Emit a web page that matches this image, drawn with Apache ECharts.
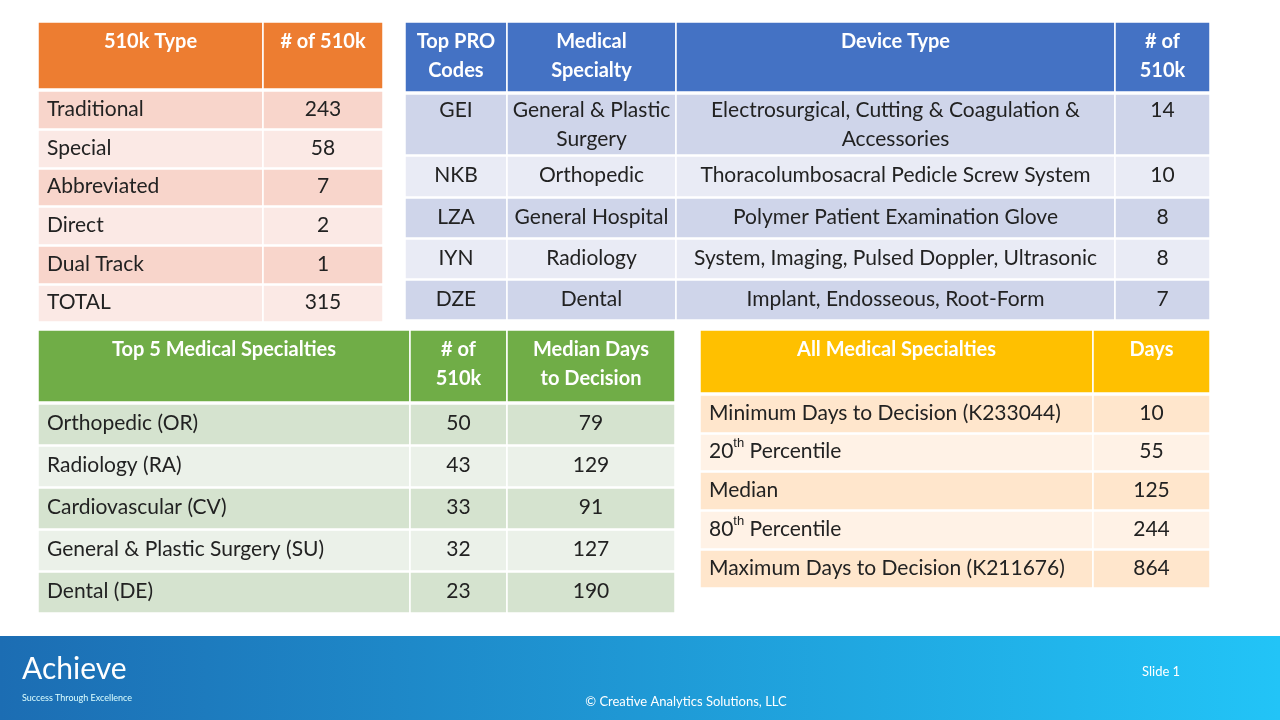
<!DOCTYPE html>
<html><head><meta charset="utf-8">
<script src="https://cdn.jsdelivr.net/npm/echarts@6/dist/echarts.min.js"></script>
<style>html,body{margin:0;background:#fff}#c{width:1280px;height:720px}</style>
</head><body><div id="c"></div>
<script>
// 510k types
var typeNames = ['Traditional', 'Special', 'Abbreviated', 'Direct', 'Dual Track', 'TOTAL'];
var typeCounts = [243, 58, 7, 2, 1, 315];
// top pro codes
var proCodes = ['GEI', 'NKB', 'LZA', 'IYN', 'DZE'];
var proSpecialty = ['General & Plastic\nSurgery', 'Orthopedic', 'General Hospital', 'Radiology', 'Dental'];
var proDevice = ['Electrosurgical, Cutting & Coagulation &\nAccessories', 'Thoracolumbosacral Pedicle Screw System',
  'Polymer Patient Examination Glove', 'System, Imaging, Pulsed Doppler, Ultrasonic', 'Implant, Endosseous, Root-Form'];
var proCounts = [14, 10, 8, 8, 7];
// top specialties
var specNames = ['Orthopedic (OR)', 'Radiology (RA)', 'Cardiovascular (CV)', 'General & Plastic Surgery (SU)', 'Dental (DE)'];
var specCounts = [50, 43, 33, 32, 23];
var specMedian = [79, 129, 91, 127, 190];
// all specialties days
var dayLabels = ['Minimum Days to Decision (K233044)', '20{sup|th} Percentile', 'Median', '80{sup|th} Percentile', 'Maximum Days to Decision (K211676)'];
var dayValues = [10, 55, 125, 244, 864];

var FONT = 'Lato';
var els = [];
function table(cols, headY, headH, rows, headers, headColor, colors, data, aligns, topRows) {
  for (var c = 0; c < cols.length - 1; c++) {
    els.push({type: 'rect', shape: {x: cols[c], y: headY, width: cols[c + 1] - cols[c], height: headH},
      style: {fill: headColor, stroke: '#fff', lineWidth: 1.5}});
    els.push({type: 'text', x: (cols[c] + cols[c + 1]) / 2, y: headY + 5,
      style: {text: headers[c], fill: '#fff', font: 'bold 20px "' + FONT + '"', align: 'center', verticalAlign: 'top', lineHeight: 29}});
  }
  var y = headY + headH + 2;
  for (var r = 0; r < rows.length; r++) {
    var h = rows[r];
    var top = topRows && topRows.indexOf(r) >= 0;
    for (var c2 = 0; c2 < cols.length - 1; c2++) {
      els.push({type: 'rect', shape: {x: cols[c2], y: y, width: cols[c2 + 1] - cols[c2], height: h},
        style: {fill: colors[r % 2], stroke: '#fff', lineWidth: 1.5}});
      var left = aligns[c2] === 'left';
      els.push({type: 'text', x: left ? cols[c2] + 9 : (cols[c2] + cols[c2 + 1]) / 2,
        y: top ? y + 2 : y + h / 2 - 1,
        style: {text: String(data[c2][r]), fill: '#222', font: '21px "' + FONT + '"', align: left ? 'left' : 'center',
          verticalAlign: top ? 'top' : 'middle', lineHeight: 29,
          rich: {sup: {fontSize: 13, verticalAlign: 'top', padding: [0, 0, 10, 0], fill: '#222'}}}});
    }
    y += h + 1;
  }
}
table([38, 263, 383], 22, 67, [38, 38, 37, 38, 38, 37], ['510k Type', '# of 510k'], '#ED7D31',
  ['#F8D5CB', '#FBE9E5'], [typeNames, typeCounts], ['left', 'center']);
table([405, 507, 676, 1115, 1210], 22, 70, [61, 41, 40, 40, 40], ['Top PRO\nCodes', 'Medical\nSpecialty', 'Device Type', '# of\n510k'], '#4472C4',
  ['#CFD5EA', '#E9EBF5'], [proCodes, proSpecialty, proDevice, proCounts], ['center', 'center', 'center', 'center'], [0]);
table([38, 410, 507, 675], 330, 72, [41, 41, 41, 41, 41], ['Top 5 Medical Specialties', '# of\n510k', 'Median Days\nto Decision'], '#70AD47',
  ['#D5E3CF', '#EBF1E9'], [specNames, specCounts, specMedian], ['left', 'center', 'center']);
table([700, 1093, 1210], 330, 63, [38, 37, 38, 38, 38], ['All Medical Specialties', 'Days'], '#FFC000',
  ['#FFE6CC', '#FFF2E6'], [dayLabels, dayValues], ['left', 'center']);

// footer
els.push({type: 'rect', shape: {x: 0, y: 636, width: 1280, height: 84},
  style: {fill: new echarts.graphic.LinearGradient(0, 0, 1, 0, [{offset: 0, color: '#1C6DB3'}, {offset: 1, color: '#22C4F7'}])}});
els.push({type: 'text', x: 22, y: 654, style: {text: 'Achieve', fill: '#fff', font: '30px "' + FONT + '"'}});
els.push({type: 'text', x: 22, y: 694, style: {text: 'Success Through Excellence', fill: '#dff', font: '9px "' + FONT + '"'}});
els.push({type: 'text', x: 1142, y: 665, style: {text: 'Slide 1', fill: '#fff', font: '13px "' + FONT + '"'}});
els.push({type: 'text', x: 686, y: 702, style: {text: '© Creative Analytics Solutions, LLC', fill: '#fff', font: '13px "' + FONT + '"', align: 'center', verticalAlign: 'middle'}});

var chart = echarts.init(document.getElementById('c'));
chart.setOption({animation: false, graphic: {elements: els}});
</script></body></html>
